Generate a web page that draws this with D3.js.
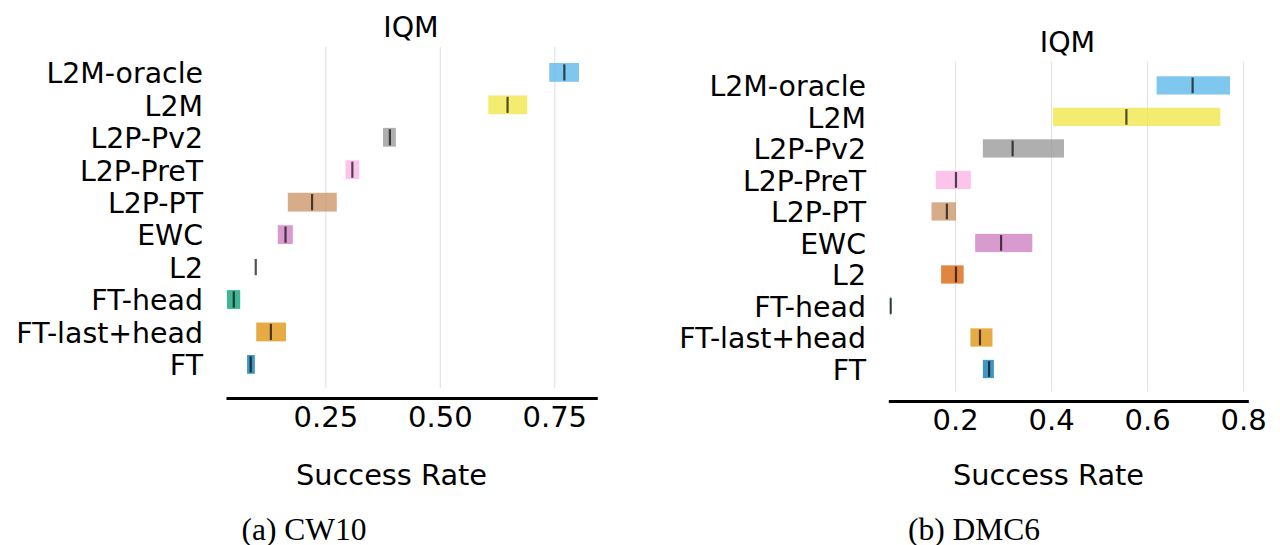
<!DOCTYPE html>
<html>
<head>
<meta charset="utf-8">
<script src="https://cdn.jsdelivr.net/npm/d3@7"></script>
<style>
  body { margin: 0; background: #fff; }
  svg { display: block; }
  text { font-family: "DejaVu Sans", sans-serif; fill: #000; }
  .caption { font-family: "Liberation Serif", "Times New Roman", serif; }
</style>
</head>
<body>
<div id="chart"></div>
<script>
// methods, top to bottom
var methods = ["L2M-oracle", "L2M", "L2P-Pv2", "L2P-PreT", "L2P-PT", "EWC", "L2", "FT-head", "FT-last+head", "FT"];
var colors = ["#56B4E9", "#F0E442", "#949494", "#FBAFE4", "#CA9161", "#CC78BC", "#D55E00", "#029E73", "#DE8F05", "#0173B2"];

// CW10 IQM with confidence interval
var cw10Lower  = [0.739, 0.606, 0.376, 0.294, 0.168, 0.146, 0.098, 0.035, 0.099, 0.079];
var cw10Median = [0.772, 0.648, 0.391, 0.309, 0.221, 0.163, 0.098, 0.050, 0.131, 0.087];
var cw10Upper  = [0.804, 0.691, 0.404, 0.324, 0.275, 0.179, 0.098, 0.064, 0.164, 0.096];
var cw10Ticks  = [0.25, 0.50, 0.75];

// DMC6 IQM with confidence interval
var dmc6Lower  = [0.620, 0.404, 0.258, 0.160, 0.151, 0.242, 0.171, 0.065, 0.232, 0.258];
var dmc6Median = [0.695, 0.557, 0.320, 0.202, 0.183, 0.296, 0.202, 0.066, 0.252, 0.271];
var dmc6Upper  = [0.773, 0.753, 0.427, 0.233, 0.202, 0.361, 0.218, 0.067, 0.278, 0.281];
var dmc6Ticks  = [0.2, 0.4, 0.6, 0.8];

var svg = d3.select("#chart").append("svg")
    .attr("width", 1280)
    .attr("height", 545);

//draw one panel
function drawPanel(p)
{
    var data = methods.map(function (m, i) {
        return {name: m, lo: p.lower[i], med: p.median[i], hi: p.upper[i], color: colors[i]};
    });

    var x = d3.scaleLinear().domain(p.xDomain).range([p.left, p.right]);
    var y = d3.scalePoint().domain(methods).range([p.firstRow, p.lastRow]);
    var barH = y.step() * 0.58;

    var g = svg.append("g");

    //1. gridlines
    g.append("g")
        .attr("class", "grid")
        .attr("transform", "translate(0," + p.gridBottom + ")")
        .call(d3.axisBottom(x).tickValues(p.ticks).tickSize(-(p.gridBottom - p.gridTop)).tickFormat(""))
        .call(function (s) {
            s.select(".domain").remove();
            s.selectAll("line").attr("stroke", "#e3e3e3").attr("stroke-width", 1.2);
        });

    //2. interval bars
    g.selectAll(".bar")
        .data(data)
        .enter()
        .append("rect")
        .attr("class", "bar")
        .attr("x", function (d) {return x(d.lo)})
        .attr("width", function (d) {return Math.max(0, x(d.hi) - x(d.lo))})
        .attr("y", function (d) {return y(d.name) - barH / 2})
        .attr("height", barH)
        .attr("fill", function (d) {return d.color})
        .attr("fill-opacity", 0.75);

    //3. median marks
    g.selectAll(".med")
        .data(data)
        .enter()
        .append("line")
        .attr("class", "med")
        .attr("x1", function (d) {return x(d.med)})
        .attr("x2", function (d) {return x(d.med)})
        .attr("y1", function (d) {return y(d.name) - barH * 0.43})
        .attr("y2", function (d) {return y(d.name) + barH * 0.43})
        .attr("stroke", "#000")
        .attr("stroke-opacity", 0.68)
        .attr("stroke-width", 2.2);

    //4. method names
    g.selectAll(".name")
        .data(data)
        .enter()
        .append("text")
        .attr("class", "name")
        .attr("x", p.labelRight)
        .attr("y", function (d) {return y(d.name)})
        .attr("dy", "0.38em")
        .attr("text-anchor", "end")
        .style("font-size", "28.4px")
        .text(function (d) {return d.name});

    //5. x axis
    g.append("g")
        .attr("class", "xaxis")
        .attr("transform", "translate(0," + p.axisY + ")")
        .call(d3.axisBottom(x).tickValues(p.ticks).tickSize(0).tickSizeOuter(0).tickPadding(8).tickFormat(d3.format(p.fmt)))
        .call(function (s) {
            s.select(".domain").attr("stroke", "#000").attr("stroke-width", 3);
            s.selectAll("text").style("font-size", "29px").attr("font-family", null);
        });

    //6. titles
    g.append("text")
        .attr("x", p.titleX)
        .attr("y", p.titleY)
        .attr("text-anchor", "middle")
        .style("font-size", "28.5px")
        .text("IQM");

    g.append("text")
        .attr("x", p.xlabelX)
        .attr("y", 484.5)
        .attr("text-anchor", "middle")
        .style("font-size", "28.8px")
        .text("Success Rate");

    g.append("text")
        .attr("class", "caption")
        .attr("x", p.captionX)
        .attr("y", 539.5)
        .attr("text-anchor", "middle")
        .style("font-size", "31.5px")
        .text(p.caption);
}

drawPanel({
    lower: cw10Lower, median: cw10Median, upper: cw10Upper, ticks: cw10Ticks, fmt: ".2f",
    xDomain: [0.033, 0.844], left: 226, right: 597.3,
    firstRow: 72.4, lastRow: 364.4, gridTop: 47, gridBottom: 388, axisY: 398,
    labelRight: 203, titleX: 411, titleY: 37.3, xlabelX: 391.5, captionX: 304, caption: "(a) CW10"
});

drawPanel({
    lower: dmc6Lower, median: dmc6Median, upper: dmc6Upper, ticks: dmc6Ticks, fmt: ".1f",
    xDomain: [0.061, 0.811], left: 888.3, right: 1248.3,
    firstRow: 85.4, lastRow: 369, gridTop: 61.7, gridBottom: 391.7, axisY: 401,
    labelRight: 866, titleX: 1067.5, titleY: 51.7, xlabelX: 1048.5, captionX: 974, caption: "(b) DMC6"
});
</script>
</body>
</html>
